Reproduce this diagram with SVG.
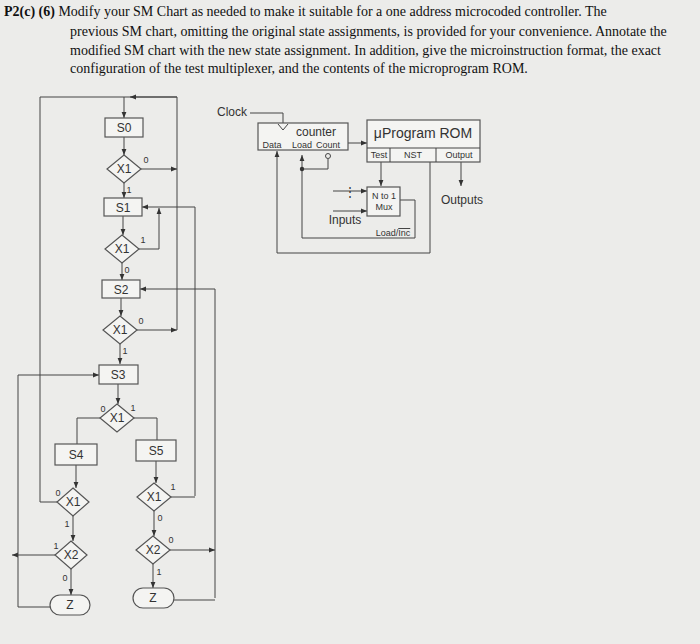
<svg xmlns="http://www.w3.org/2000/svg" width="700" height="644" viewBox="0 0 700 644">
<defs>
<marker id="a" viewBox="0 0 10 10" refX="10" refY="5" markerWidth="6" markerHeight="6" orient="auto"><path d="M0,1 L10,5 L0,9 z" fill="#333"/></marker>
<style>
.b{fill:#f4f4f2;stroke:#555;stroke-width:1.2}
.l{fill:none;stroke:#444;stroke-width:1}
.t{font-family:"Liberation Sans",Arial,sans-serif;fill:#333;text-anchor:middle}
.h{font-family:"Liberation Serif","Times New Roman",serif;fill:#111;font-size:14px}
.s{font-size:12px}
.n{font-size:9px}
</style>
</defs>
<rect width="700" height="644" fill="#ececea"/>
<g id="header" class="h">
<text x="4" y="16"><tspan font-weight="bold">P2(c) (6)</tspan> Modify your SM Chart as needed to make it suitable for a one address microcoded controller. The</text>
<text x="70" y="36">previous SM chart, omitting the original state assignments, is provided for your convenience. Annotate the</text>
<text x="70" y="55">modified SM chart with the new state assignment. In addition, give the microinstruction format, the exact</text>
<text x="70" y="73">configuration of the test multiplexer, and the contents of the microprogram ROM.</text>
</g>
<g id="connectors">
<path class="l" d="M124,97 V118" marker-end="url(#a)"/>
<path class="l" d="M40,97 H177 V330"/>
<path class="l" d="M177,97 H130" marker-end="url(#a)"/>
<path class="l" d="M124,137 V155" marker-end="url(#a)"/>
<path class="l" d="M141,169 H177" marker-end="url(#a)"/>
<path class="l" d="M124,183 V198" marker-end="url(#a)"/>
<path class="l" d="M123,216 V235" marker-end="url(#a)"/>
<path class="l" d="M139,249 H159 V208" marker-end="url(#a)"/>
<path class="l" d="M195,496 V207 H142" marker-end="url(#a)"/>
<path class="l" d="M122,263 V280" marker-end="url(#a)"/>
<path class="l" d="M121,298 V316" marker-end="url(#a)"/>
<path class="l" d="M137,330 H177" marker-end="url(#a)"/>
<path class="l" d="M120,344 V364" marker-end="url(#a)"/>
<path class="l" d="M215,598 V289 H140" marker-end="url(#a)"/>
<path class="l" d="M118,384 V404" marker-end="url(#a)"/>
<path class="l" d="M100,418 H77 V444"/>
<path class="l" d="M134,418 H157 V440"/>
<path class="l" d="M76,465 V488" marker-end="url(#a)"/>
<path class="l" d="M57,502 H40 V97"/>
<path class="l" d="M73,516 V541" marker-end="url(#a)"/>
<path class="l" d="M55,555 H12" marker-end="url(#a)"/>
<path class="l" d="M71,569 V595" marker-end="url(#a)"/>
<path class="l" d="M50,607 H18 V375 H99" marker-end="url(#a)"/>
<path class="l" d="M156,461 V483" marker-end="url(#a)"/>
<path class="l" d="M171,497 H195"/>
<path class="l" d="M154,511 V536" marker-end="url(#a)"/>
<path class="l" d="M170,550 H215" marker-end="url(#a)"/>
<path class="l" d="M153,564 V588" marker-end="url(#a)"/>
<path class="l" d="M174,600 H215"/>
<!-- hardware -->
<path class="l" d="M250,113 H283 V124"/>
<path class="l" d="M348,143 H367" marker-end="url(#a)"/>
<path class="l" d="M381,162 V186" marker-end="url(#a)" stroke-width="1.6"/>
<path class="l" d="M461,162 V186" marker-end="url(#a)" stroke-width="1.6"/>
<path class="l" d="M333,191 H367" marker-end="url(#a)"/>
<path class="l" d="M333,211 H367" marker-end="url(#a)"/>
<path class="l" d="M400,200 H415 V238 H302 V155" marker-end="url(#a)"/>
<path class="l" d="M302,169 H328 V159"/>
<path class="l" d="M430,162 V253 H277 V151" marker-end="url(#a)" stroke-width="1.4"/>
</g>
<g id="S0"><rect class="b" x="105" y="118" width="38" height="19"/><text class="t s" x="124" y="132">S0</text></g>
<g id="D1"><path class="b" d="M124,155 L141,169 L124,183 L107,169 z"/><text class="t s" x="124" y="173">X1</text><text class="t n" x="146" y="163">0</text><text class="t n" x="129" y="193">1</text></g>
<g id="S1"><rect class="b" x="104" y="198" width="38" height="18"/><text class="t s" x="123" y="212">S1</text></g>
<g id="D2"><path class="b" d="M122,235 L139,249 L122,263 L105,249 z"/><text class="t s" x="122" y="253">X1</text><text class="t n" x="143" y="243">1</text><text class="t n" x="127" y="273">0</text></g>
<g id="S2"><rect class="b" x="102" y="280" width="38" height="18"/><text class="t s" x="121" y="294">S2</text></g>
<g id="D3"><path class="b" d="M120,316 L137,330 L120,344 L103,330 z"/><text class="t s" x="120" y="334">X1</text><text class="t n" x="141" y="324">0</text><text class="t n" x="125" y="354">1</text></g>
<g id="S3"><rect class="b" x="99" y="365" width="39" height="19"/><text class="t s" x="118" y="379">S3</text></g>
<g id="D4"><path class="b" d="M117,404 L134,418 L117,432 L100,418 z"/><text class="t s" x="117" y="422">X1</text><text class="t n" x="103" y="412">0</text><text class="t n" x="133" y="411">1</text></g>
<g id="S4"><rect class="b" x="55" y="444" width="42" height="21"/><text class="t s" x="76" y="459">S4</text></g>
<g id="S5"><rect class="b" x="136" y="440" width="40" height="21"/><text class="t s" x="156" y="455">S5</text></g>
<g id="D5"><path class="b" d="M73,488 L89,502 L73,516 L57,502 z"/><text class="t s" x="73" y="506">X1</text><text class="t n" x="58" y="496">0</text><text class="t n" x="67" y="527">1</text></g>
<g id="D6"><path class="b" d="M71,541 L87,555 L71,569 L55,555 z"/><text class="t s" x="71" y="559">X2</text><text class="t n" x="56" y="549">1</text><text class="t n" x="65" y="581">0</text></g>
<g id="Z1"><rect class="b" x="50" y="595" width="40" height="20" rx="10"/><text class="t s" x="70" y="609">Z</text></g>
<g id="D7"><path class="b" d="M154,483 L171,497 L154,511 L137,497 z"/><text class="t s" x="154" y="501">X1</text><text class="t n" x="173" y="490">1</text><text class="t n" x="160" y="521">0</text></g>
<g id="D8"><path class="b" d="M153,536 L170,550 L153,564 L136,550 z"/><text class="t s" x="153" y="554">X2</text><text class="t n" x="171" y="543">0</text><text class="t n" x="159" y="575">1</text></g>
<g id="Z2"><rect class="b" x="133" y="588" width="41" height="20" rx="10"/><text class="t s" x="153" y="602">Z</text></g>
<g id="clock"><text class="t s" x="232" y="116">Clock</text></g>
<g id="counter"><rect class="b" x="258" y="123" width="90" height="27"/><path class="l" d="M278,124 L283,130 L288,124"/><text class="t s" x="316" y="136">counter</text><text class="t n" x="272" y="148">Data</text><text class="t n" x="302" y="148">Load</text><text class="t n" x="328" y="148">Count</text><circle class="l" cx="328" cy="156" r="2.5"/><circle cx="302" cy="169" r="2.2" fill="#333"/></g>
<g id="rom"><rect class="b" x="367" y="120" width="113" height="42"/><path class="l" d="M367,148 H480 M390,148 V162 M436,148 V162"/><text class="t" font-size="14" x="423" y="138">μProgram ROM</text><text class="t n" x="379" y="158">Test</text><text class="t n" x="413" y="158">NST</text><text class="t n" x="459" y="158">Output</text></g>
<g id="mux"><rect class="b" x="367" y="187" width="33" height="29"/><text class="t n" x="384" y="199">N to 1</text><text class="t n" x="384" y="210">Mux</text><text class="t s" x="350" y="196">⋮</text><text class="t s" x="345" y="224">Inputs</text><text class="t n" x="393" y="236">Load/<tspan text-decoration="overline">Inc</tspan></text></g>
<g id="outputs"><text class="t s" x="462" y="204">Outputs</text></g>
</svg>
